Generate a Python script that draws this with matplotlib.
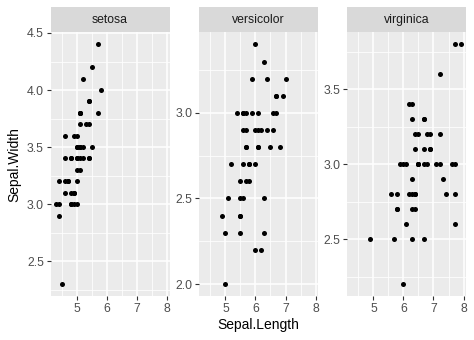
import matplotlib
matplotlib.use("Agg")
import matplotlib.pyplot as plt
import numpy as np

plt.rcParams["font.family"] = ["Liberation Sans", "DejaVu Sans"]

species = ["setosa", "versicolor", "virginica"]

setosa_len = [5.1, 4.9, 4.7, 4.6, 5.0, 5.4, 4.6, 5.0, 4.4, 4.9, 5.4, 4.8, 4.8, 4.3, 5.8, 5.7, 5.4,
              5.1, 5.7, 5.1, 5.4, 5.1, 4.6, 5.1, 4.8, 5.0, 5.0, 5.2, 5.2, 4.7, 4.8, 5.4, 5.2, 5.5,
              4.9, 5.0, 5.5, 4.9, 4.4, 5.1, 5.0, 4.5, 4.4, 5.0, 5.1, 4.8, 5.1, 4.6, 5.3, 5.0]
setosa_wid = [3.5, 3.0, 3.2, 3.1, 3.6, 3.9, 3.4, 3.4, 2.9, 3.1, 3.7, 3.4, 3.0, 3.0, 4.0, 4.4, 3.9,
              3.5, 3.8, 3.8, 3.4, 3.7, 3.6, 3.3, 3.4, 3.0, 3.4, 3.5, 3.4, 3.2, 3.1, 3.4, 4.1, 4.2,
              3.1, 3.2, 3.5, 3.6, 3.0, 3.4, 3.5, 2.3, 3.2, 3.5, 3.8, 3.0, 3.8, 3.2, 3.7, 3.3]

versicolor_len = [7.0, 6.4, 6.9, 5.5, 6.5, 5.7, 6.3, 4.9, 6.6, 5.2, 5.0, 5.9, 6.0, 6.1, 5.6, 6.7, 5.6,
                  5.8, 6.2, 5.6, 5.9, 6.1, 6.3, 6.1, 6.4, 6.6, 6.8, 6.7, 6.0, 5.7, 5.5, 5.5, 5.8, 6.0,
                  5.4, 6.0, 6.7, 6.3, 5.6, 5.5, 5.5, 6.1, 5.8, 5.0, 5.6, 5.7, 5.7, 6.2, 5.1, 5.7]
versicolor_wid = [3.2, 3.2, 3.1, 2.3, 2.8, 2.8, 3.3, 2.4, 2.9, 2.7, 2.0, 3.0, 2.2, 2.9, 2.9, 3.1, 3.0,
                  2.7, 2.2, 2.5, 3.2, 2.8, 2.5, 2.8, 2.9, 3.0, 2.8, 3.0, 2.9, 2.6, 2.4, 2.4, 2.7, 2.7,
                  3.0, 3.4, 3.1, 2.3, 3.0, 2.5, 2.6, 3.0, 2.6, 2.3, 2.7, 3.0, 2.9, 2.9, 2.5, 2.8]

virginica_len = [6.3, 5.8, 7.1, 6.3, 6.5, 7.6, 4.9, 7.3, 6.7, 7.2, 6.5, 6.4, 6.8, 5.7, 5.8, 6.4, 6.5,
                 7.7, 7.7, 6.0, 6.9, 5.6, 7.7, 6.3, 6.7, 7.2, 6.2, 6.1, 6.4, 7.2, 7.4, 7.9, 6.4, 6.3,
                 6.1, 7.7, 6.3, 6.4, 6.0, 6.9, 6.7, 6.9, 5.8, 6.8, 6.7, 6.7, 6.3, 6.5, 6.2, 5.9]
virginica_wid = [3.3, 2.7, 3.0, 2.9, 3.0, 3.0, 2.5, 2.9, 2.5, 3.6, 3.2, 2.7, 3.0, 2.5, 2.8, 3.2, 3.0,
                 3.8, 2.6, 2.2, 3.2, 2.8, 2.8, 2.7, 3.3, 3.2, 2.8, 3.0, 2.8, 3.0, 2.8, 3.8, 2.8, 2.8,
                 2.6, 3.0, 3.4, 3.1, 3.0, 3.1, 3.1, 3.1, 2.7, 3.2, 3.3, 3.0, 2.5, 3.0, 3.4, 3.0]

x_ticks = [5, 6, 7, 8]
y_ticks = {
    "setosa": [2.5, 3.0, 3.5, 4.0, 4.5],
    "versicolor": [2.0, 2.5, 3.0],
    "virginica": [2.5, 3.0, 3.5],
}
data = {
    "setosa": (setosa_len, setosa_wid),
    "versicolor": (versicolor_len, versicolor_wid),
    "virginica": (virginica_len, virginica_wid),
}

all_len = setosa_len + versicolor_len + virginica_len
xmin, xmax = min(all_len), max(all_len)
xpad = 0.05 * (xmax - xmin)

fig = plt.figure(figsize=(4.74, 3.40), dpi=100)
lefts = [0.1066, 0.4198, 0.732]
width = 0.251
bottom, top = 0.1294, 0.9047
strip_top = 0.979

for sp, left in zip(species, lefts):
    ax = fig.add_axes([left, bottom, width, top - bottom])
    ax.set_facecolor("#EBEBEB")
    xs, ys = data[sp]
    ymin, ymax = min(ys), max(ys)
    ypad = 0.05 * (ymax - ymin)

    yt = y_ticks[sp]
    ax.set_xticks(x_ticks)
    ax.set_yticks(yt)
    ax.set_yticklabels(["%.1f" % v for v in yt])
    ax.set_xticks([4.5, 5.5, 6.5, 7.5], minor=True)
    ax.set_yticks([v - 0.25 for v in yt] + [yt[-1] + 0.25], minor=True)
    ax.set_xlim(xmin - xpad, xmax + xpad)
    ax.set_ylim(ymin - ypad, ymax + ypad)

    ax.grid(True, which="major", color="white", linewidth=1.1)
    ax.grid(True, which="minor", color="white", linewidth=0.55)
    ax.set_axisbelow(True)
    for s in ax.spines.values():
        s.set_visible(False)
    ax.tick_params(which="major", length=2.75, width=0.8, color="#333333",
                   labelcolor="#4D4D4D", labelsize=8.8, pad=2)
    ax.tick_params(which="minor", length=0)

    ax.scatter(xs, ys, s=13, color="black", linewidths=0, zorder=3)

    sax = fig.add_axes([left, top, width, strip_top - top])
    sax.set_facecolor("#D9D9D9")
    sax.set_xticks([])
    sax.set_yticks([])
    for s in sax.spines.values():
        s.set_visible(False)
    sax.text(0.5, 0.5, sp, ha="center", va="center", fontsize=8.8, color="#1A1A1A",
             transform=sax.transAxes)

fig.text((lefts[0] + lefts[2] + width) / 2, 0.044, "Sepal.Length", ha="center", va="center",
         fontsize=10, color="black")
fig.text(0.03, (bottom + top) / 2, "Sepal.Width", ha="center", va="center", rotation=90,
         fontsize=10, color="black")

fig.savefig("out.png", dpi=100)
